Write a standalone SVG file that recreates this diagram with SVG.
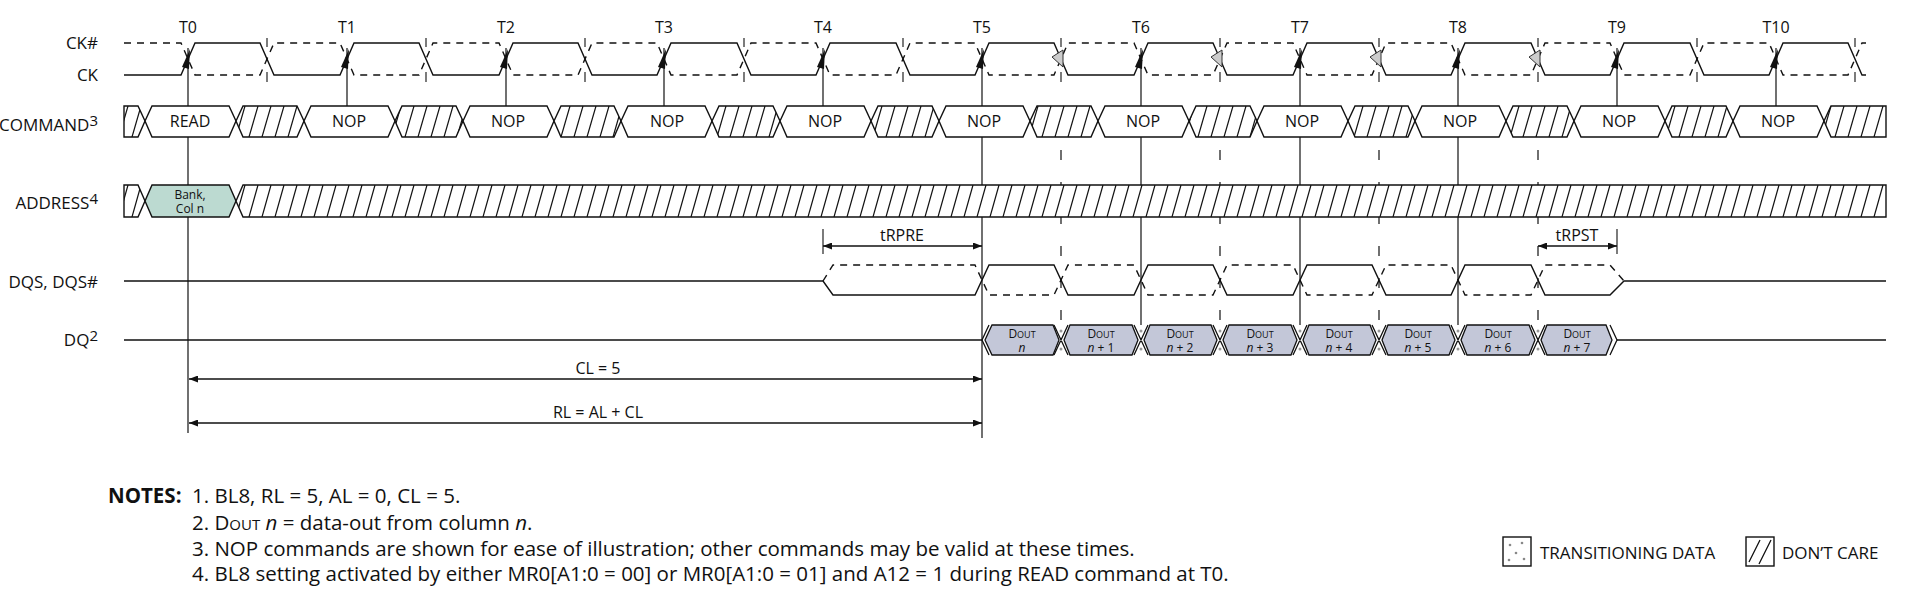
<svg xmlns="http://www.w3.org/2000/svg" width="1920" height="608" viewBox="0 0 1920 608">
<style>
text{font-family:"Open Sans","Liberation Sans",sans-serif;fill:#111}
.lbl{font-size:17px;text-anchor:end}
.t{font-size:16px;text-anchor:middle}
.cmd{font-size:16px;text-anchor:middle}
.note{font-size:20.5px}
.w{fill:none;stroke:#111;stroke-width:1.4}
.d{fill:none;stroke:#111;stroke-width:1.4;stroke-dasharray:7 6}
.v{stroke:#111;stroke-width:1.2}
.vd{stroke:#111;stroke-width:1.2;stroke-dasharray:10 22}
.hx{fill:#fff;stroke:#111;stroke-width:1.4}
.hc{fill:url(#hc);stroke:#111;stroke-width:1.4}
.ha{fill:url(#ha);stroke:#111;stroke-width:1.4}
.dq{fill:#c3c7d8;stroke:#111;stroke-width:1.3}
.dt{font-size:12px;text-anchor:middle}
.ar{stroke:#111;stroke-width:1.3;marker-start:url(#ah);marker-end:url(#ah)}
.ck{fill:#111}
.ckg{fill:#ccc;stroke:#333;stroke-width:1}
</style>
<defs>
<pattern id="hc" patternUnits="userSpaceOnUse" x="0" y="106" width="13" height="31"><rect width="13" height="31" fill="#fff"/><line x1="2" y1="31" x2="11" y2="0" stroke="#111" stroke-width="1.2"/></pattern>
<pattern id="ha" patternUnits="userSpaceOnUse" x="0" y="185" width="13" height="32"><rect width="13" height="32" fill="#fff"/><line x1="2" y1="32" x2="11" y2="0" stroke="#111" stroke-width="1.2"/></pattern>
<marker id="ah" viewBox="0 0 10 10" refX="10" refY="5" markerWidth="9" markerHeight="7" markerUnits="userSpaceOnUse" orient="auto-start-reverse" preserveAspectRatio="none"><path d="M0,0 L10,5 L0,10 z" fill="#111"/></marker>
</defs>
<rect width="1920" height="608" fill="#fff"/>

<g id="labels">
<text class="lbl" x="98" y="49">CK#</text>
<text class="lbl" x="98" y="81">CK</text>
<text class="lbl" x="98" y="131">COMMAND<tspan font-size="15" dy="-5">3</tspan></text>
<text class="lbl" x="98" y="209">ADDRESS<tspan font-size="15" dy="-5">4</tspan></text>
<text class="lbl" x="98" y="288">DQS, DQS#</text>
<text class="lbl" x="98" y="346">DQ<tspan font-size="15" dy="-5">2</tspan></text>
<text class="t" x="188" y="33">T0</text><text class="t" x="347" y="33">T1</text><text class="t" x="506" y="33">T2</text><text class="t" x="664" y="33">T3</text><text class="t" x="823" y="33">T4</text><text class="t" x="982" y="33">T5</text><text class="t" x="1141" y="33">T6</text><text class="t" x="1300" y="33">T7</text><text class="t" x="1458" y="33">T8</text><text class="t" x="1617" y="33">T9</text><text class="t" x="1776" y="33">T10</text>
</g>

<g id="connectors">
<line class="v" x1="188" y1="48" x2="188" y2="433"/>
<line class="v" x1="347" y1="48" x2="347" y2="106"/>
<line class="v" x1="506" y1="48" x2="506" y2="106"/>
<line class="v" x1="664" y1="48" x2="664" y2="106"/>
<line class="v" x1="823" y1="48" x2="823" y2="106"/>
<line class="v" x1="982" y1="48" x2="982" y2="438"/>
<line class="v" x1="1141" y1="48" x2="1141" y2="325"/>
<line class="v" x1="1300" y1="48" x2="1300" y2="325"/>
<line class="v" x1="1458" y1="48" x2="1458" y2="325"/>
<line class="v" x1="1617" y1="48" x2="1617" y2="106"/>
<line class="v" x1="1776" y1="48" x2="1776" y2="106"/>
<line class="vd" x1="1061" y1="150" x2="1061" y2="325"/>
<line class="vd" x1="1220" y1="150" x2="1220" y2="325"/>
<line class="vd" x1="1379" y1="150" x2="1379" y2="325"/>
<line class="vd" x1="1538" y1="150" x2="1538" y2="325"/>
<g stroke="#111" stroke-width="1.1" fill="none">
<path d="M267,38v9M267,72v10M426,38v9M426,72v10M585,38v9M585,72v10M744,38v9M744,72v10M903,38v9M903,72v10M1061,38v9M1061,72v10M1220,38v9M1220,72v10M1379,38v9M1379,72v10M1538,38v9M1538,72v10M1697,38v9M1697,72v10M1855,38v9M1855,72v10"/>
<path d="M823,229v25M1617,229v25"/>
</g>
<line class="ar" x1="823" y1="246" x2="982" y2="246"/>
<line class="ar" x1="1538" y1="246" x2="1617" y2="246"/>
<line class="ar" x1="189" y1="379" x2="982" y2="379"/>
<line class="ar" x1="189" y1="423" x2="982" y2="423"/>
<text class="t" x="902" y="241">tRPRE</text>
<text class="t" x="1577" y="241">tRPST</text>
<text class="t" x="598" y="374">CL = 5</text>
<text class="t" x="598" y="418">RL = AL + CL</text>
</g>

<g id="clock">
<path class="w" d="M124,75 L181,75 L195,43 L260,43 L274,75 L340,75 L354,43 L419,43 L433,75 L499,75 L513,43 L578,43 L592,75 L657,75 L671,43 L737,43 L751,75 L816,75 L830,43 L896,43 L910,75 L975,75 L989,43 L1054,43 L1068,75 L1134,75 L1148,43 L1213,43 L1227,75 L1293,75 L1307,43 L1372,43 L1386,75 L1451,75 L1465,43 L1531,43 L1545,75 L1610,75 L1624,43 L1690,43 L1704,75 L1769,75 L1783,43 L1848,43 L1862,75 L1866,75"/>
<path class="d" d="M124,43 L181,43 L195,75 L260,75 L274,43 L340,43 L354,75 L419,75 L433,43 L499,43 L513,75 L578,75 L592,43 L657,43 L671,75 L737,75 L751,43 L816,43 L830,75 L896,75 L910,43 L975,43 L989,75 L1054,75 L1068,43 L1134,43 L1148,75 L1213,75 L1227,43 L1293,43 L1307,75 L1372,75 L1386,43 L1451,43 L1465,75 L1531,75 L1545,43 L1610,43 L1624,75 L1690,75 L1704,43 L1769,43 L1783,75 L1848,75 L1862,43 L1866,43"/>
<polygon class="ck" points="190,49 182,67 189,69"/>
<polygon class="ck" points="349,49 341,67 348,69"/>
<polygon class="ck" points="508,49 500,67 507,69"/>
<polygon class="ck" points="666,49 658,67 665,69"/>
<polygon class="ck" points="825,49 817,67 824,69"/>
<polygon class="ck" points="984,49 976,67 983,69"/>
<polygon class="ck" points="1143,49 1135,67 1142,69"/>
<polygon class="ck" points="1302,49 1294,67 1301,69"/>
<polygon class="ck" points="1460,49 1452,67 1459,69"/>
<polygon class="ck" points="1619,49 1611,67 1618,69"/>
<polygon class="ck" points="1778,49 1770,67 1777,69"/>
<polygon class="ckg" points="1052,57 1063,50 1063,67"/>
<polygon class="ckg" points="1211,57 1222,50 1222,67"/>
<polygon class="ckg" points="1370,57 1381,50 1381,67"/>
<polygon class="ckg" points="1529,57 1540,50 1540,67"/>
</g>

<g id="command">
<polygon class="hc" points="124,106 138,106 145,121 138,137 124,137"/>
<polygon class="hx" points="145,121 152,106 229,106 236,121 229,137 152,137"/><text class="cmd" x="190" y="127">READ</text>
<polygon class="hc" points="236,121 243,106 297,106 304,121 297,137 243,137"/>
<polygon class="hx" points="304,121 311,106 388,106 395,121 388,137 311,137"/><text class="cmd" x="349" y="127">NOP</text>
<polygon class="hc" points="395,121 402,106 456,106 463,121 456,137 402,137"/>
<polygon class="hx" points="463,121 470,106 547,106 554,121 547,137 470,137"/><text class="cmd" x="508" y="127">NOP</text>
<polygon class="hc" points="554,121 561,106 614,106 621,121 614,137 561,137"/>
<polygon class="hx" points="621,121 628,106 705,106 712,121 705,137 628,137"/><text class="cmd" x="667" y="127">NOP</text>
<polygon class="hc" points="712,121 719,106 773,106 780,121 773,137 719,137"/>
<polygon class="hx" points="780,121 787,106 864,106 871,121 864,137 787,137"/><text class="cmd" x="825" y="127">NOP</text>
<polygon class="hc" points="871,121 878,106 932,106 939,121 932,137 878,137"/>
<polygon class="hx" points="939,121 946,106 1023,106 1030,121 1023,137 946,137"/><text class="cmd" x="984" y="127">NOP</text>
<polygon class="hc" points="1030,121 1037,106 1091,106 1098,121 1091,137 1037,137"/>
<polygon class="hx" points="1098,121 1105,106 1182,106 1189,121 1182,137 1105,137"/><text class="cmd" x="1143" y="127">NOP</text>
<polygon class="hc" points="1189,121 1196,106 1250,106 1257,121 1250,137 1196,137"/>
<polygon class="hx" points="1257,121 1264,106 1341,106 1348,121 1341,137 1264,137"/><text class="cmd" x="1302" y="127">NOP</text>
<polygon class="hc" points="1348,121 1355,106 1408,106 1415,121 1408,137 1355,137"/>
<polygon class="hx" points="1415,121 1422,106 1499,106 1506,121 1499,137 1422,137"/><text class="cmd" x="1460" y="127">NOP</text>
<polygon class="hc" points="1506,121 1513,106 1567,106 1574,121 1567,137 1513,137"/>
<polygon class="hx" points="1574,121 1581,106 1658,106 1665,121 1658,137 1581,137"/><text class="cmd" x="1619" y="127">NOP</text>
<polygon class="hc" points="1665,121 1672,106 1726,106 1733,121 1726,137 1672,137"/>
<polygon class="hx" points="1733,121 1740,106 1817,106 1824,121 1817,137 1740,137"/><text class="cmd" x="1778" y="127">NOP</text>
<polygon class="hc" points="1824,121 1831,106 1886,106 1886,137 1831,137"/>
</g>

<g id="address">
<polygon class="ha" points="124,185 138,185 145,201 138,217 124,217"/>
<polygon points="145,201 152,185 229,185 236,201 229,217 152,217" fill="#bcdad1" stroke="#111" stroke-width="1.4"/>
<text class="dt" x="190" y="199">Bank,</text><text class="dt" x="190" y="213">Col n</text>
<polygon class="ha" points="236,201 243,185 1886,185 1886,217 243,217"/>
</g>

<g id="dqs">
<path class="w" d="M124,281 L823,281 L833,295 L975,295 L989,265 L1054,265 L1068,295 L1134,295 L1148,265 L1213,265 L1227,295 L1293,295 L1307,265 L1372,265 L1386,295 L1451,295 L1465,265 L1531,265 L1545,295 L1610,295 L1624,281 L1886,281"/>
<path class="d" d="M823,281 L833,265 L975,265 L989,295 L1054,295 L1068,265 L1134,265 L1148,295 L1213,295 L1227,265 L1293,265 L1307,295 L1372,295 L1386,265 L1451,265 L1465,295 L1531,295 L1545,265 L1610,265 L1624,281"/>
</g>

<g id="dq">
<path class="w" d="M124,340 L982,340 M1617,340 L1886,340"/>
<g stroke="#111" stroke-width="1.3" fill="none">
<path d="M989,325 L982,340 L989,355 M1054,325 L1068,355 M1054,355 L1068,325 M1134,325 L1148,355 M1134,355 L1148,325 M1213,325 L1227,355 M1213,355 L1227,325 M1293,325 L1307,355 M1293,355 L1307,325 M1372,325 L1386,355 M1372,355 L1386,325 M1451,325 L1465,355 M1451,355 L1465,325 M1531,325 L1545,355 M1531,355 L1545,325 M1610,325 L1617,340 L1610,355"/>
</g>
<polygon class="dq" points="985,340 992,325 1053,325 1059,340 1053,355 992,355"/>
<polygon class="dq" points="1064,340 1070,325 1132,325 1138,340 1132,355 1070,355"/>
<polygon class="dq" points="1144,340 1150,325 1211,325 1217,340 1211,355 1150,355"/>
<polygon class="dq" points="1223,340 1229,325 1291,325 1297,340 1291,355 1229,355"/>
<polygon class="dq" points="1303,340 1309,325 1370,325 1376,340 1370,355 1309,355"/>
<polygon class="dq" points="1382,340 1388,325 1449,325 1455,340 1449,355 1388,355"/>
<polygon class="dq" points="1461,340 1467,325 1529,325 1535,340 1529,355 1467,355"/>
<polygon class="dq" points="1541,340 1547,325 1606,325 1612,340 1606,355 1547,355"/>
<g fill="#999"><circle cx="1061" cy="331" r="1.5"/><circle cx="1061" cy="349" r="1.5"/><circle cx="1141" cy="331" r="1.5"/><circle cx="1141" cy="349" r="1.5"/><circle cx="1220" cy="331" r="1.5"/><circle cx="1220" cy="349" r="1.5"/><circle cx="1300" cy="331" r="1.5"/><circle cx="1300" cy="349" r="1.5"/><circle cx="1379" cy="331" r="1.5"/><circle cx="1379" cy="349" r="1.5"/><circle cx="1458" cy="331" r="1.5"/><circle cx="1458" cy="349" r="1.5"/><circle cx="1538" cy="331" r="1.5"/><circle cx="1538" cy="349" r="1.5"/></g>
<text class="dt" x="1022" y="338">D<tspan font-size="9">OUT</tspan></text><text class="dt" x="1022" y="352" font-style="italic">n</text>
<text class="dt" x="1101" y="338">D<tspan font-size="9">OUT</tspan></text><text class="dt" x="1101" y="352"><tspan font-style="italic">n</tspan> + 1</text>
<text class="dt" x="1180" y="338">D<tspan font-size="9">OUT</tspan></text><text class="dt" x="1180" y="352"><tspan font-style="italic">n</tspan> + 2</text>
<text class="dt" x="1260" y="338">D<tspan font-size="9">OUT</tspan></text><text class="dt" x="1260" y="352"><tspan font-style="italic">n</tspan> + 3</text>
<text class="dt" x="1339" y="338">D<tspan font-size="9">OUT</tspan></text><text class="dt" x="1339" y="352"><tspan font-style="italic">n</tspan> + 4</text>
<text class="dt" x="1418" y="338">D<tspan font-size="9">OUT</tspan></text><text class="dt" x="1418" y="352"><tspan font-style="italic">n</tspan> + 5</text>
<text class="dt" x="1498" y="338">D<tspan font-size="9">OUT</tspan></text><text class="dt" x="1498" y="352"><tspan font-style="italic">n</tspan> + 6</text>
<text class="dt" x="1577" y="338">D<tspan font-size="9">OUT</tspan></text><text class="dt" x="1577" y="352"><tspan font-style="italic">n</tspan> + 7</text>
</g>

<g id="notes">
<text class="note" x="108" y="503" font-weight="bold">NOTES:</text>
<text class="note" x="192" y="503">1. BL8, RL = 5, AL = 0, CL = 5.</text>
<text class="note" x="192" y="530">2. D<tspan font-size="15">OUT</tspan> <tspan font-style="italic">n</tspan>  = data-out from column <tspan font-style="italic">n</tspan>.</text>
<text class="note" x="192" y="556">3. NOP commands are shown for ease of illustration; other commands may be valid at these times.</text>
<text class="note" x="192" y="581">4. BL8 setting activated by either MR0[A1:0 = 00] or MR0[A1:0 = 01] and A12 = 1 during READ command at T0.</text>
</g>

<g id="legend">
<rect x="1503" y="537" width="28" height="29" fill="#fff" stroke="#111" stroke-width="1.4"/>
<g fill="#888"><circle cx="1510" cy="545" r="1.3"/><circle cx="1522" cy="543" r="1.3"/><circle cx="1516" cy="553" r="1.3"/><circle cx="1509" cy="560" r="1.3"/><circle cx="1524" cy="559" r="1.3"/></g>
<text x="1540" y="559" font-size="17">TRANSITIONING DATA</text>
<rect x="1746" y="537" width="28" height="29" fill="#fff" stroke="#111" stroke-width="1.4"/>
<path d="M1749,562 L1760,540 M1759,564 L1771,540" stroke="#111" stroke-width="1.3"/>
<text x="1782" y="559" font-size="17">DON’T CARE</text>
</g>
</svg>
